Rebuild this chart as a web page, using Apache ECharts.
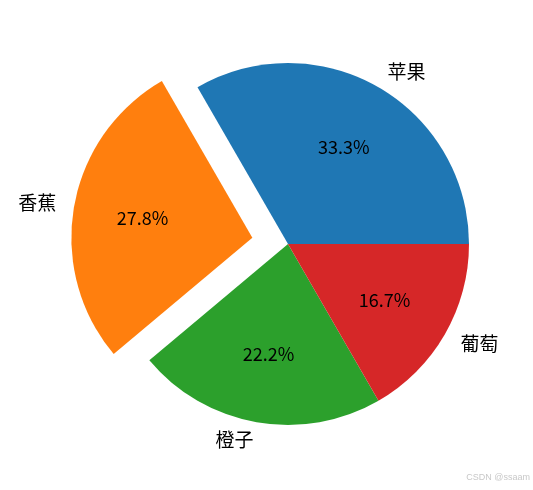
<!DOCTYPE html>
<html>
<head>
<meta charset="utf-8">
<script src="https://cdn.jsdelivr.net/npm/echarts@6/dist/echarts.min.js"></script>
<style>html,body{margin:0;padding:0;background:#fff}#c{width:533px;height:490px}</style>
</head>
<body>
<div id="c"></div>
<script>
var categories = ['苹果', '香蕉', '橙子', '葡萄'];
var values = [6, 5, 4, 3];
var colors = ['#1f77b4', '#ff7f0e', '#2ca02c', '#d62728'];
var exploded = [false, true, false, false];

var R = 181;
var C = [288, 244];
var explodeOffset = 0.2 * R;
var total = values.reduce(function (a, b) { return a + b; }, 0);
var FONT = '"Noto Sans CJK SC", "Noto Sans", sans-serif';

var chart = echarts.init(document.getElementById('c'), null, { renderer: 'canvas' });

function makeData(transparent) {
  return categories.map(function (n, i) {
    return {
      name: n,
      value: values[i],
      selected: exploded[i],
      itemStyle: { color: transparent ? 'rgba(0,0,0,0)' : colors[i], borderWidth: 0 }
    };
  });
}

chart.setOption({
  animation: false,
  series: [
    {
      type: 'pie',
      center: C,
      radius: [0, R],
      startAngle: 0,
      clockwise: false,
      selectedMode: 'multiple',
      selectedOffset: explodeOffset,
      avoidLabelOverlap: false,
      silent: true,
      data: makeData(false),
      label: {
        show: true,
        position: 'outside',
        formatter: '{b}',
        fontFamily: FONT,
        fontSize: 19,
        color: '#000',
        distanceToLabelLine: 0
      },
      labelLine: { show: false, length: 0.1 * R, length2: 0 },
      emphasis: { disabled: true },
      select: { itemStyle: {} }
    },
    {
      type: 'pie',
      center: C,
      radius: [0.2 * R, R],
      startAngle: 0,
      clockwise: false,
      selectedMode: 'multiple',
      selectedOffset: explodeOffset,
      avoidLabelOverlap: false,
      silent: true,
      data: makeData(true),
      label: {
        show: true,
        position: 'inside',
        formatter: function (p) { return (p.value / total * 100).toFixed(1) + '%'; },
        fontFamily: FONT,
        fontSize: 18,
        color: '#000'
      },
      labelLine: { show: false },
      emphasis: { disabled: true },
      select: { itemStyle: {} }
    }
  ],
  graphic: [
    {
      type: 'text',
      right: 3,
      top: 473,
      style: { text: 'CSDN @ssaam', fill: '#c8c8c8', font: '9px "Liberation Sans", Arial, sans-serif' }
    }
  ]
});
</script>
</body>
</html>
